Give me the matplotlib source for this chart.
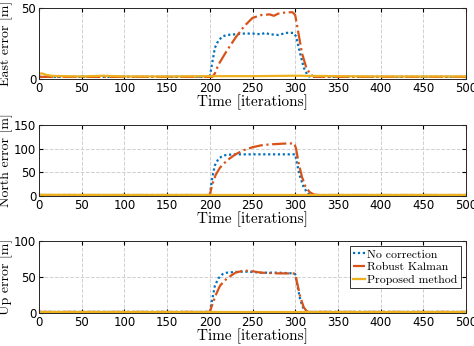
import matplotlib
matplotlib.use("Agg")
import matplotlib.pyplot as plt

# MATLAB default colours
BLUE = (0.0, 0.447, 0.741)
RED = (0.85, 0.325, 0.098)
YELLOW = (0.929, 0.694, 0.125)

t_base = [0, 50, 100, 150, 199]
t_tail = [330, 350, 400, 450, 500]

# East
east_nc_t = t_base + [200, 203, 206, 210, 215, 220, 230, 240, 250, 260, 265, 270, 280, 290, 298,
                      301, 305, 310, 315, 320] + t_tail
east_nc = [1.5, 1.5, 1.5, 1.5, 1.5, 1.5, 12, 22, 27, 30, 31, 31.5, 32, 32, 31.5, 32.5, 31.5, 31, 32.5, 32.5,
           30, 20, 8, 2, 1.5, 1.5, 1.5, 1.5, 1.5, 1.5]
east_rk_t = t_base + [203, 206, 210, 220, 230, 240, 250, 260, 270, 275, 280, 290, 297,
                      300, 303, 308, 313, 318, 323] + t_tail
east_rk = [1.5, 1.5, 1.5, 1.5, 1.5, 1.5, 4, 10, 20, 29, 37, 43, 45, 45.5, 44.5, 46, 47, 47,
           45, 35, 18, 8, 3, 1.5, 1.5, 1.5, 1.5, 1.5, 1.5]
east_pm_t = [0, 3, 8, 15, 30, 50, 75, 100, 150, 200, 250, 300, 350, 400, 450, 500]
east_pm = [3.5, 4, 3, 2.2, 2, 1.8, 2.3, 1.8, 1.8, 2, 2, 2.3, 2, 1.8, 1.8, 1.8]

# North
north_nc_t = t_base + [200, 203, 206, 210, 215, 220, 230, 260, 300, 302, 305, 310, 315, 320] + t_tail
north_nc = [2, 2, 2, 2, 2, 2, 40, 65, 78, 85, 87, 88, 88, 88, 70, 45, 18, 5, 2, 2, 2, 2, 2, 2]
north_rk_t = t_base + [200, 203, 207, 212, 220, 230, 240, 250, 260, 270, 280, 290, 299,
                       301, 304, 308, 312, 317, 322, 328] + t_tail
north_rk = [2, 2, 2, 2, 2, 2, 25, 45, 60, 75, 88, 97, 103, 107, 109, 110, 111, 111,
            100, 70, 40, 20, 8, 3, 2, 2, 2, 2, 2, 2]
north_pm_t = [0, 100, 200, 300, 400, 500]
north_pm = [2.5, 2.2, 2.2, 2.2, 2.2, 2.2]

# Up
up_nc_t = t_base + [200, 203, 206, 210, 215, 220, 230, 240, 250, 260, 280, 298,
                    300, 303, 306, 310, 315] + t_tail
up_nc = [1.5, 1.5, 1.5, 1.5, 1.5, 1.5, 20, 38, 48, 54, 56, 57, 57.5, 57, 56, 56, 55,
         54, 35, 18, 5, 1.5, 1.5, 1.5, 1.5, 1.5, 1.5]
up_rk_t = t_base + [200, 203, 207, 212, 220, 230, 240, 250, 260, 280, 298,
                    300, 303, 306, 310, 313, 316] + t_tail
up_rk = [1.5, 1.5, 1.5, 1.5, 1.5, 1.5, 12, 25, 38, 48, 56, 59, 58, 56, 55, 55,
         54, 38, 22, 8, 3, 1.5, 1.5, 1.5, 1.5, 1.5, 1.5]
up_pm_t = [0, 100, 200, 300, 400, 500]
up_pm = [2, 2, 2, 2, 2, 2]

panels = [
    ("East error [m]", [0, 50], (east_nc_t, east_nc), (east_rk_t, east_rk), (east_pm_t, east_pm)),
    ("North error [m]", [0, 50, 100, 150], (north_nc_t, north_nc), (north_rk_t, north_rk), (north_pm_t, north_pm)),
    ("Up error [m]", [0, 50, 100], (up_nc_t, up_nc), (up_rk_t, up_rk), (up_pm_t, up_pm)),
]
xticks = list(range(0, 501, 50))

W, H = 474, 346
fig = plt.figure(figsize=(W / 100, H / 100), dpi=100)
# axes boxes in pixels: (top, bottom)
boxes = [(8, 79), (125, 196), (241, 313)]
left, right = 39, 466

serif = "cmr10"
for (label, yticks, nc, rk, pm), (top, bot) in zip(panels, boxes):
    ax = fig.add_axes([left / W, 1 - bot / H, (right - left) / W, (bot - top) / H])
    ax.plot(*nc, color=BLUE, ls=(0, (1, 1.2)), lw=1.6, label="No correction")
    ax.plot(*rk, color=RED, ls="-.", lw=1.6, label="Robust Kalman")
    ax.plot(*pm, color=YELLOW, ls="-", lw=1.6, label="Proposed method")
    ax.set_xlim(0, 500)
    ax.set_ylim(yticks[0], yticks[-1])
    ax.set_xticks(xticks)
    ax.set_yticks(yticks)
    ax.grid(True, ls="--", color="#d0d0d0", lw=0.7)
    ax.tick_params(direction="in", top=True, right=True, labelsize=8.5, length=3, pad=2)
    for s in ax.spines.values():
        s.set_color("#262626")
        s.set_linewidth(0.7)
    ax.set_xlabel("Time [iterations]", family=serif, fontsize=11, labelpad=0)
    ax.set_ylabel(label, family=serif, fontsize=10)
    ax.yaxis.set_label_coords(-0.06, 0.5)
    last = ax

leg = last.legend(loc="upper right", prop={"family": serif, "size": 8.5}, fancybox=False,
                  edgecolor="black", handlelength=1.0, borderpad=0.3, labelspacing=0.2,
                  handletextpad=0.2, borderaxespad=0.4)
leg.get_frame().set_linewidth(0.7)

fig.savefig("out.png", dpi=100)
